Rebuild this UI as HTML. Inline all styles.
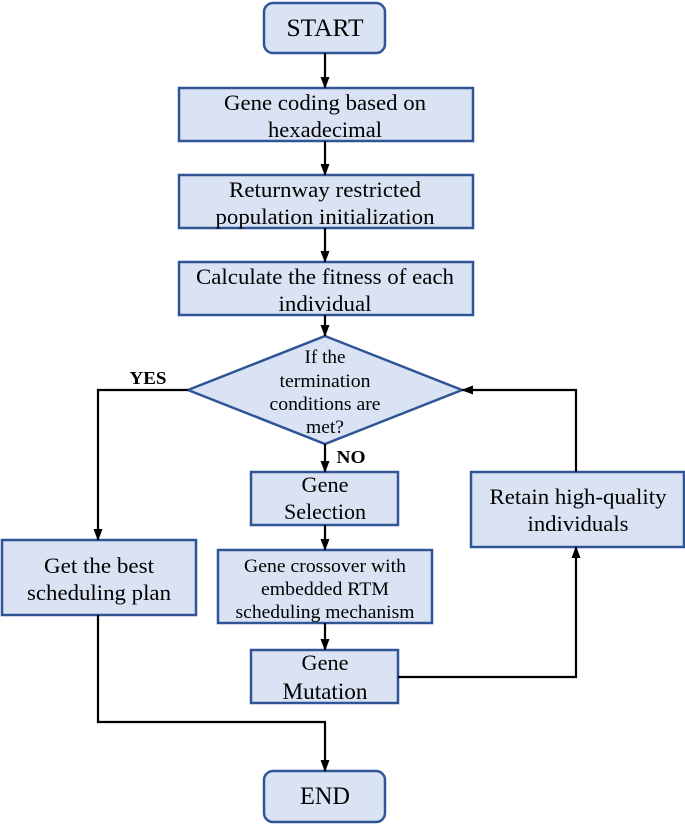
<!DOCTYPE html>
<html><head><style>body{margin:0;background:#fff}svg{display:block}text{font-family:"Liberation Serif","Noto Serif CJK SC",serif;fill:#000;text-anchor:middle}</style></head><body>
<svg width="685" height="825" viewBox="0 0 685 825">
<defs><marker id="a" markerWidth="12" markerHeight="12" refX="11" refY="6" orient="auto" markerUnits="userSpaceOnUse"><path d="M0,1.5 L12,6 L0,10.5 z" fill="#000"/></marker></defs>
<g fill="#dae3f3" stroke="#2f5597" stroke-width="2.5">
<rect x="264" y="3" width="121" height="50" rx="9"/>
<rect x="179" y="88" width="294" height="53"/>
<rect x="179" y="175" width="294" height="53"/>
<rect x="179" y="262" width="294" height="53"/>
<polygon points="325,336 462,390 325,444 188,390"/>
<rect x="251" y="472" width="147" height="53"/>
<rect x="218" y="550" width="214" height="73"/>
<rect x="251" y="650" width="147" height="53"/>
<rect x="471" y="472" width="213" height="75"/>
<rect x="2" y="540" width="194" height="75"/>
<rect x="264" y="771" width="121" height="51" rx="9"/>
</g>
<g stroke="#000" stroke-width="2.2" fill="none" marker-end="url(#a)">
<line x1="325" y1="53" x2="325" y2="88"/>
<line x1="325" y1="141" x2="325" y2="175"/>
<line x1="325" y1="228" x2="325" y2="262"/>
<line x1="325" y1="315" x2="325" y2="336"/>
<line x1="325" y1="444" x2="325" y2="472"/>
<line x1="325" y1="525" x2="325" y2="550"/>
<line x1="325" y1="623" x2="325" y2="650"/>
<polyline points="188,390 98,390 98,540"/>
<polyline points="398,677 576,677 576,547"/>
<polyline points="576,472 576,390 462,390"/>
<polyline points="98,615 98,722 325,722 325,771"/>
</g>
<g font-size="22">
<text x="325" y="36" font-size="25" textLength="77" lengthAdjust="spacingAndGlyphs">START</text>
<text x="325" y="110" textLength="202" lengthAdjust="spacingAndGlyphs">Gene coding based on</text>
<text x="325" y="137" textLength="114" lengthAdjust="spacingAndGlyphs">hexadecimal</text>
<text x="325" y="197" textLength="192" lengthAdjust="spacingAndGlyphs">Returnway restricted</text>
<text x="325" y="224" textLength="219" lengthAdjust="spacingAndGlyphs">population initialization</text>
<text x="325" y="284" textLength="258" lengthAdjust="spacingAndGlyphs">Calculate the fitness of each</text>
<text x="325" y="311" textLength="93" lengthAdjust="spacingAndGlyphs">individual</text>
<text x="325" y="363" font-size="19" textLength="41" lengthAdjust="spacingAndGlyphs">If the</text>
<text x="325" y="387" font-size="19" textLength="91" lengthAdjust="spacingAndGlyphs">termination</text>
<text x="325" y="410" font-size="19" textLength="111" lengthAdjust="spacingAndGlyphs">conditions are</text>
<text x="325" y="433" font-size="19" textLength="38" lengthAdjust="spacingAndGlyphs">met?</text>
<text x="148" y="384" font-size="18" font-weight="bold" textLength="37" lengthAdjust="spacingAndGlyphs">YES</text>
<text x="351" y="463" font-size="18" font-weight="bold" textLength="29" lengthAdjust="spacingAndGlyphs">NO</text>
<text x="325" y="492" textLength="47" lengthAdjust="spacingAndGlyphs">Gene</text>
<text x="325" y="519" textLength="82" lengthAdjust="spacingAndGlyphs">Selection</text>
<text x="325" y="572" font-size="19" textLength="162" lengthAdjust="spacingAndGlyphs">Gene crossover with</text>
<text x="325" y="595" font-size="19" textLength="128" lengthAdjust="spacingAndGlyphs">embedded RTM</text>
<text x="325" y="618" font-size="19" textLength="179" lengthAdjust="spacingAndGlyphs">scheduling mechanism</text>
<text x="325" y="670" textLength="47" lengthAdjust="spacingAndGlyphs">Gene</text>
<text x="325" y="699" font-size="23" textLength="85" lengthAdjust="spacingAndGlyphs">Mutation</text>
<text x="578" y="504" textLength="177" lengthAdjust="spacingAndGlyphs">Retain high-quality</text>
<text x="578" y="531" textLength="101" lengthAdjust="spacingAndGlyphs">individuals</text>
<text x="99" y="573" textLength="110" lengthAdjust="spacingAndGlyphs">Get the best</text>
<text x="99" y="600" textLength="144" lengthAdjust="spacingAndGlyphs">scheduling plan</text>
<text x="325" y="804" font-size="25" textLength="50" lengthAdjust="spacingAndGlyphs">END</text>
</g>
</svg>
</body></html>
